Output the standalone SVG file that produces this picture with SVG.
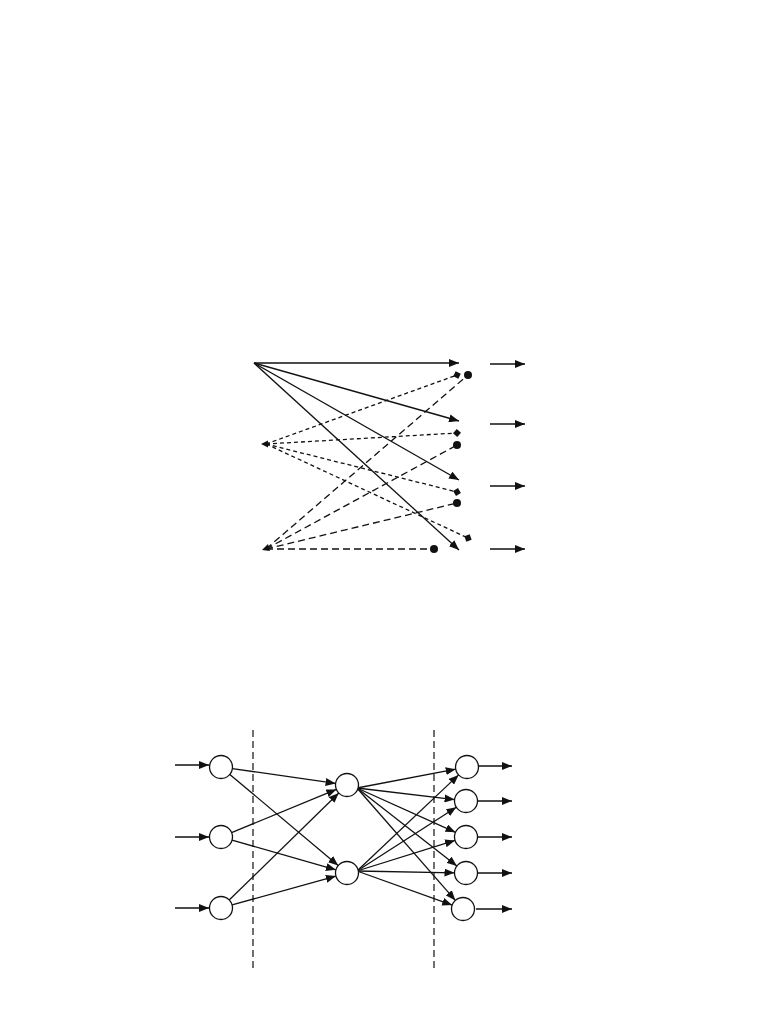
<svg xmlns="http://www.w3.org/2000/svg" width="768" height="1024" viewBox="0 0 768 1024">
<defs>
<marker id="ah" viewBox="0 0 10 8" refX="10" refY="4" markerWidth="10" markerHeight="8" markerUnits="userSpaceOnUse" orient="auto">
<path d="M0,0 L10,4 L0,8 Z" fill="#111"/>
</marker>
<marker id="dia" viewBox="0 0 8 8" refX="4" refY="4" markerWidth="8" markerHeight="8" markerUnits="userSpaceOnUse" orient="auto">
<path d="M0,4 L4,0 L8,4 L4,8 Z" fill="#111"/>
</marker>
<marker id="dot" viewBox="0 0 8 8" refX="4" refY="4" markerWidth="8" markerHeight="8" markerUnits="userSpaceOnUse">
<circle cx="4" cy="4" r="4" fill="#111"/>
</marker>
</defs>
<style>
.s{stroke:#111;stroke-width:1.3;fill:none}
.a{marker-end:url(#ah)}
.sd{stroke:#111;stroke-width:1.3;fill:none;stroke-dasharray:4 3;marker-end:url(#dia)}
.ld{stroke:#111;stroke-width:1.3;fill:none;stroke-dasharray:7 4;marker-end:url(#dot)}
.vd{stroke:#111;stroke-width:1.2;fill:none;stroke-dasharray:7 4}
.n{fill:#fff;stroke:#111;stroke-width:1.3}
</style>
<rect width="768" height="1024" fill="#fff"/>

<g id="top-diagram">
<g id="top-sources">
<path d="M261,444 L268,440.5 L268,447.5 Z" fill="#111"/>
<path d="M262,550 L268,544 L270,551 Z" fill="#111"/>
</g>
<g id="top-connectors">
<line class="s a" x1="254" y1="363" x2="459" y2="363"/>
<line class="s a" x1="254" y1="363" x2="459" y2="421"/>
<line class="s a" x1="254" y1="363" x2="459" y2="480"/>
<line class="s a" x1="254" y1="363" x2="459" y2="550"/>
<line class="sd" x1="266" y1="444" x2="457" y2="375"/>
<line class="sd" x1="266" y1="444" x2="457" y2="433"/>
<line class="sd" x1="266" y1="444" x2="457" y2="492"/>
<line class="sd" x1="266" y1="444" x2="468" y2="538"/>
<line class="ld" x1="266" y1="549" x2="468" y2="375"/>
<line class="ld" x1="266" y1="549" x2="457" y2="445"/>
<line class="ld" x1="266" y1="549" x2="457" y2="503"/>
<line class="ld" x1="266" y1="549" x2="434" y2="549"/>
<line class="s a" x1="490" y1="364" x2="525" y2="364"/>
<line class="s a" x1="490" y1="424" x2="525" y2="424"/>
<line class="s a" x1="490" y1="486" x2="525" y2="486"/>
<line class="s a" x1="490" y1="549" x2="525" y2="549"/>
</g>
</g>

<g id="bottom-connectors">
<line class="vd" x1="253" y1="730" x2="253" y2="972"/>
<line class="vd" x1="434" y1="730" x2="434" y2="972"/>
<line class="s a" x1="175" y1="765" x2="209" y2="765"/>
<line class="s a" x1="175" y1="837" x2="209" y2="837"/>
<line class="s a" x1="175" y1="908" x2="209" y2="908"/>
<line class="s a" x1="232.4" y1="768.6" x2="335.6" y2="783.4"/>
<line class="s a" x1="229.8" y1="774.4" x2="338.2" y2="865.6"/>
<line class="s a" x1="231.6" y1="832.6" x2="336.4" y2="789.4"/>
<line class="s a" x1="232.1" y1="840.2" x2="335.9" y2="869.8"/>
<line class="s a" x1="229.2" y1="900" x2="338.8" y2="793"/>
<line class="s a" x1="232.1" y1="904.9" x2="335.9" y2="876.1"/>
<line class="s a" x1="357" y1="788" x2="455.7" y2="769.2"/>
<line class="s a" x1="357" y1="788" x2="454.6" y2="799.6"/>
<line class="s a" x1="357" y1="788" x2="455.5" y2="832.3"/>
<line class="s a" x1="357" y1="788" x2="456.9" y2="865.9"/>
<line class="s a" x1="357" y1="788" x2="455.4" y2="900.4"/>
<line class="s a" x1="357" y1="871" x2="458.6" y2="774.9"/>
<line class="s a" x1="357" y1="871" x2="456.3" y2="807.2"/>
<line class="s a" x1="357" y1="871" x2="455" y2="840.4"/>
<line class="s a" x1="357" y1="871" x2="454.5" y2="872.8"/>
<line class="s a" x1="357" y1="871" x2="452.2" y2="905.1"/>
<line class="s a" x1="478" y1="766" x2="512" y2="766"/>
<line class="s a" x1="478" y1="801" x2="512" y2="801"/>
<line class="s a" x1="478" y1="837" x2="512" y2="837"/>
<line class="s a" x1="478" y1="873" x2="512" y2="873"/>
<line class="s a" x1="476" y1="909" x2="512" y2="909"/>
</g>

<g id="in1"><circle class="n" cx="221" cy="767" r="11.5"/></g>
<g id="in2"><circle class="n" cx="221" cy="837" r="11.5"/></g>
<g id="in3"><circle class="n" cx="221" cy="908" r="11.5"/></g>
<g id="hid1"><circle class="n" cx="347" cy="785" r="11.5"/></g>
<g id="hid2"><circle class="n" cx="347" cy="873" r="11.5"/></g>
<g id="out1"><circle class="n" cx="467" cy="767" r="11.5"/></g>
<g id="out2"><circle class="n" cx="466" cy="801" r="11.5"/></g>
<g id="out3"><circle class="n" cx="466" cy="837" r="11.5"/></g>
<g id="out4"><circle class="n" cx="466" cy="873" r="11.5"/></g>
<g id="out5"><circle class="n" cx="463" cy="909" r="11.5"/></g>
</svg>
